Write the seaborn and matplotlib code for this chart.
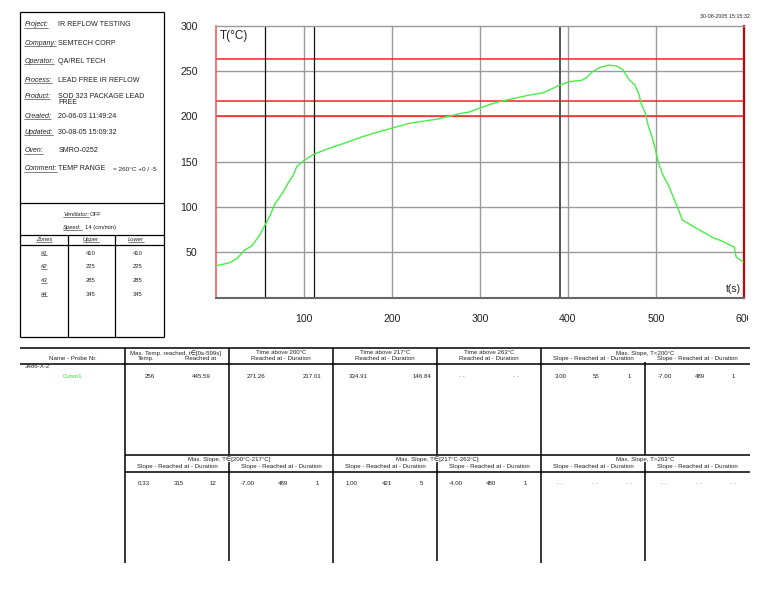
import matplotlib
matplotlib.use("Agg")
import matplotlib.pyplot as plt
import seaborn as sns
import pandas as pd
from matplotlib.transforms import Bbox

# ---------------- data ----------------
time_s = [0, 16, 24, 33, 41, 50, 56, 62, 67, 77, 82, 88, 92, 100, 111, 126, 145, 167, 183, 200,
          220, 251, 277, 289, 301, 319, 334, 357, 372, 381, 391, 402, 416, 421, 428, 436, 446,
          455, 462, 466, 470, 476, 481, 483, 488, 491, 496, 500, 503, 508, 515, 521, 525, 530,
          538, 546, 555, 565, 574, 584, 589, 591, 599]
temp_c = [35, 38.5, 43, 52.5, 57, 69, 80, 91, 103, 117, 126, 135, 144.5, 151, 158, 163.7, 170,
          177.6, 182.4, 186.9, 192.4, 196.8, 203, 205, 209.6, 215.5, 218.8, 223.6, 226, 230,
          234.6, 238.3, 239.8, 242.7, 249.3, 253.7, 256.5, 255.6, 252, 245.7, 240, 234.6, 223.6,
          214.5, 203.4, 190.5, 175.8, 161, 148, 135, 122.4, 107.7, 98.5, 85.6, 81, 76.5, 71.6,
          66, 62.8, 58, 55.5, 45, 39.6]
limit_temps = [200, 217, 263]
marker_times = [55.6, 111.6]
marker_time_dark = 391
x_ticks = [100, 200, 300, 400, 500, 600]
y_ticks = [50, 100, 150, 200, 250, 300]

info_labels = ["Project:", "Company:", "Operator:", "Process:", "Product:", "Created:",
               "Updated:", "Oven:", "Comment:"]
info_values = ["IR REFLOW TESTING", "SEMTECH CORP", "QA/REL TECH", "LEAD FREE IR REFLOW",
               "SOD 323 PACKAGE LEAD\nFREE", "20-06-03 11:49:24", "30-08-05 15:09:32",
               "SMRO-0252", "TEMP RANGE"]
comment_tail = "= 260°C +0 / -5"
zones = ["#1", "#2", "#3", "#4"]
zone_upper = ["410", "225", "285", "345"]
zone_lower = ["410", "225", "285", "345"]

top_values = [["256", "445.59"], ["271.26", "217.01"], ["334.91", "146.84"], ["- -", "- -"],
              ["3.00", "55", "1"], ["-7.00", "489", "1"]]
bottom_values = [["0.33", "315", "12"], ["-7.00", "489", "1"], ["1.00", "421", "5"],
                 ["-4.00", "480", "1"], ["- -", "- -", "- -"], ["- -", "- -", "- -"]]

# ---------------- figure ----------------
sns.set_theme(style="white")
plt.rcParams['font.family'] = ['Liberation Sans', 'DejaVu Sans']

W, H = 768, 594
fig = plt.figure(figsize=(7.68, 5.94), dpi=100)
fig.patch.set_facecolor("white")

ov = fig.add_axes([0, 0, 1, 1])
ov.set_xlim(0, W)
ov.set_ylim(H, 0)
ov.axis("off")

L, R, T_, B = 215.7, 744.0, 25.7, 297.6
ax = fig.add_axes([L / W, 1 - B / H, (R - L) / W, (B - T_) / H])

df = pd.DataFrame({"t": time_s, "T": temp_c})
ax.set_xlim(0, 600)
ax.set_ylim(0, 300)
for xv in [100, 200, 300, 400, 500]:
    ax.axvline(xv, color="#9a9a9a", lw=1.0, zorder=1)
for yv in [50, 100, 150, 200, 250]:
    ax.axhline(yv, color="#9a9a9a", lw=1.0, zorder=1)
for yv in limit_temps:
    ax.axhline(yv, color="#ff2020", lw=1.1, zorder=2)
for xv in marker_times:
    ax.axvline(xv, color="#111111", lw=0.9, zorder=2)
ax.axvline(marker_time_dark, color="#555555", lw=1.4, zorder=2)
sns.lineplot(data=df, x="t", y="T", ax=ax, color="#44f044", lw=1.0, zorder=3, estimator=None)

ax.set_xlabel("")
ax.set_ylabel("")
ax.set_xticks(x_ticks)
ax.set_yticks(y_ticks)
ax.tick_params(axis="both", length=0, labelsize=7.6, labelcolor="#222222")
ax.tick_params(axis="y", pad=13)
ax.tick_params(axis="x", pad=12)
ax.spines["top"].set_color("#9a9a9a")
ax.spines["top"].set_linewidth(1.0)
ax.spines["left"].set_color("#ff5050")
ax.spines["left"].set_linewidth(1.1)
ax.spines["right"].set_color("#cc0000")
ax.spines["right"].set_linewidth(1.6)
ax.spines["bottom"].set_color("#666666")
ax.spines["bottom"].set_linewidth(1.5)
for lbl in ax.get_xticklabels():
    lbl.set_clip_box(Bbox([[0, 0], [747.5, H]]))
    lbl.set_clip_on(True)
ax.text(0.008, 0.985, "T(°C)", transform=ax.transAxes, ha="left", va="top", fontsize=8.5,
        color="#222222")
ax.text(0.995, 0.015, "t(s)", transform=ax.transAxes, ha="right", va="bottom", fontsize=7.5,
        color="#222222")

# ---------------- helpers ----------------
def hl(y, x0, x1, lw=1.0, c="black"):
    ov.plot([x0, x1], [y, y], color=c, lw=lw, solid_capstyle="butt")

def vl(x, y0, y1, lw=1.0, c="black"):
    ov.plot([x, x], [y0, y1], color=c, lw=lw, solid_capstyle="butt")

def tx(x, y, s, ha="center", size=4.4, **kw):
    return ov.text(x, y, s, ha=ha, va="center", fontsize=size, color=kw.pop("color", "#222222"), **kw)

underlined = []

# ---------------- timestamp ----------------
tx(750, 17, "30-08-2005 15:15:32", ha="right", size=3.8)

# ---------------- info panel ----------------
hl(12, 20, 164, lw=0.9); hl(337, 20, 164, lw=0.9)
vl(20, 12, 337, lw=0.9); vl(164, 12, 337, lw=0.9)
hl(203.3, 20, 164, lw=0.9)
hl(235, 20, 164, lw=0.9)
hl(244.5, 20, 164, lw=0.9)
vl(68, 235, 337, lw=0.9); vl(115, 235, 337, lw=0.9)

info_y = [25, 43.3, 61.7, 80, 96.3, 116, 132.7, 151, 169]
for lab, val, y in zip(info_labels, info_values, info_y):
    underlined.append(tx(24.3, y, lab, ha="left", size=5.0, style="italic"))
    for k, line in enumerate(val.split("\n")):
        tx(58.3, y + k * 6.6, line, ha="left", size=5.1)
tx(113, 169.3, comment_tail, ha="left", size=4.6)

underlined.append(tx(63, 215, "Ventilator:", ha="left", size=4.2, style="italic"))
tx(89.5, 215, "OFF", ha="left", size=4.2)
underlined.append(tx(63, 228, "Speed:", ha="left", size=4.2, style="italic"))
tx(85, 228, "14 (cm/min)", ha="left", size=4.2)
for s, xc in zip(["Zones", "Upper", "Lower"], [44, 91, 136]):
    underlined.append(tx(xc, 239.8, s, size=4.2, style="italic"))
row_y = [253.5, 267, 281, 294.5]
for z, u, lo, y in zip(zones, zone_upper, zone_lower, row_y):
    underlined.append(tx(44, y, z, size=4.2, style="italic"))
    tx(91, y, u, size=4.2)
    tx(138, y, lo, size=4.2)

# ---------------- result table ----------------
cols = [125, 229, 333, 437, 541, 645, 748]
hl(348.3, 20, 750, lw=1.1)
hl(364.3, 20, 750, lw=1.1)
vl(125, 348.3, 563, lw=1.1)
vl(229, 348.3, 455, lw=1.1); vl(229, 462, 561, lw=1.1)
vl(333, 348.3, 563, lw=1.1)
vl(437, 348.3, 455, lw=1.1); vl(437, 462, 561, lw=1.1)
vl(541, 348.3, 563, lw=1.1)
vl(645, 361.5, 455, lw=1.1); vl(645, 462, 561, lw=1.1)
hl(455, 125, 750, lw=1.1)
hl(471.7, 125, 750, lw=1.1)

tx(72.5, 359, "Name - Probe Nr.")
tx(176, 353, "Max. Temp. reached, t∈[0s-599s]")
tx(146, 358.8, "Temp.")
tx(201, 358.8, "Reached at")
for left, thr in zip([229, 333, 437], ["200", "217", "263"]):
    tx(left + 52, 353, f"Time above {thr}°C")
    tx(left + 52, 358.8, "Reached at - Duration")
tx(645, 353, "Max. Slope, T<200°C")
tx(593, 358.8, "Slope - Reached at - Duration")
tx(697, 358.8, "Slope - Reached at - Duration")

tx(25, 366.5, "3486-X-2", ha="left")
tx(73, 376, "Curve1", color="#33dd33")

two_offsets = [[25, 76], [27, 83], [25, 89], [25, 79]]
for i in range(4):
    for v, off in zip(top_values[i], two_offsets[i]):
        tx(cols[i] + off, 376, v, color="#777777" if v == "- -" else "#222222")
for i in range(4, 6):
    for v, off in zip(top_values[i], [20, 55, 88]):
        tx(cols[i] + off, 376, v)

for mid, title in zip([229, 437, 645], ["Max. Slope, T∈[200°C-217°C]", "Max. Slope, T∈[217°C-263°C]",
                                        "Max. Slope, T>263°C"]):
    tx(mid, 459.3, title)
for i in range(6):
    tx(cols[i] + 52, 466.3, "Slope - Reached at - Duration")
    for v, off in zip(bottom_values[i], [19, 54, 88]):
        tx(cols[i] + off, 483.3, v, color="#777777" if v == "- -" else "#222222")

# underline labels
fig.canvas.draw()
rend = fig.canvas.get_renderer()
inv = ov.transData.inverted()
for t in underlined:
    bb = t.get_window_extent(rend)
    (x0, y0), (x1, y1) = inv.transform([[bb.x0, bb.y0], [bb.x1, bb.y1]])
    yb = max(y0, y1) - 0.8
    ov.plot([x0, x1], [yb, yb], color="#222222", lw=0.4)

fig.savefig("out.png", dpi=100, facecolor="white")
